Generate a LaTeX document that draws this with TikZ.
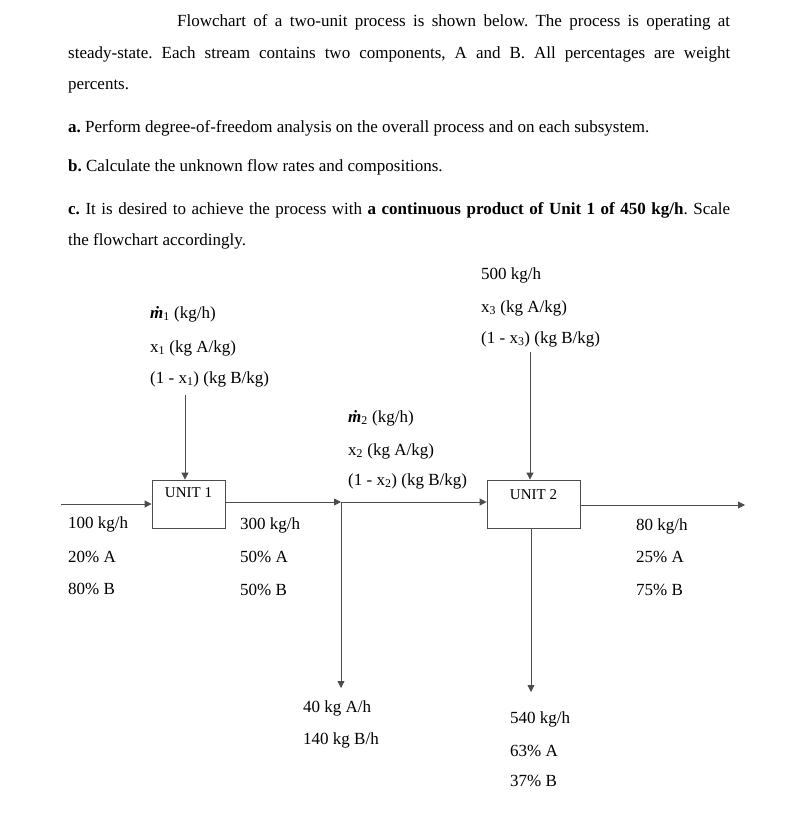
\documentclass[tikz,border=0pt]{standalone}
\usepackage{fontspec}
\setmainfont{Liberation Serif}
\usepackage{tikz}
\usetikzlibrary{arrows.meta}
\frenchspacing

\begin{document}
\begin{tikzpicture}[
    x=1pt,y=-1pt,
    txt/.style={anchor=base west,inner sep=0pt,font=\fontsize{17}{20}\selectfont},
    unit/.style={draw=black!70,line width=0.8pt,minimum width=73pt,minimum height=48pt,inner sep=0pt},
    unitname/.style={anchor=north,inner sep=0pt,font=\fontsize{15}{18}\selectfont},
    flow/.style={draw=black!70,line width=0.8pt,-{Triangle[length=7pt,width=7pt]}}
  ]
    \useasboundingbox (0,0) rectangle (799,815);

    % Problem statement
    \node[txt] (l1) at (177,26) {\makebox[553pt][s]{Flowchart of a two-unit process is shown below. The process is operating at}};
    \node[txt] (l2) at (68,58) {\makebox[662pt][s]{steady-state. Each stream contains two components, A and B. All percentages are weight}};
    \node[txt] (l3) at (68,89) {percents.};
    \node[txt] (qa) at (68,132) {\textbf{a.} Perform degree-of-freedom analysis on the overall process and on each subsystem.};
    \node[txt] (qb) at (68,171) {\textbf{b.} Calculate the unknown flow rates and compositions.};
    \node[txt] (qc) at (68,214) {\makebox[662pt][s]{\textbf{c.} It is desired to achieve the process with \textbf{a continuous product of Unit 1 of 450 kg/h}. Scale}};
    \node[txt] (qd) at (68,245) {the flowchart accordingly.};

    % The two units
    \node[unit,minimum width=73pt,label={[unitname,yshift=-8pt]north:UNIT 1}] (u1) at (188.5,504) {};
    \node[unit,minimum width=93pt,label={[unitname,yshift=-10pt]north:UNIT 2}] (u2) at (533.5,504) {};

    % Free ends of the streams
    \coordinate (feed) at (61,504);
    \coordinate (top1) at (185,395);
    \coordinate (jn) at (341,502);
    \coordinate (side) at (341,688);
    \coordinate (top2) at (530,352);
    \coordinate (prod) at (745,505);
    \coordinate (btm2) at (531,692);

    % Streams
    \draw[flow] (feed) -- (u1.west);
    \draw[flow] (top1) -- (top1 |- u1.north);
    \draw[flow] (u1.east |- jn) -- (jn);
    \draw[flow] (jn) -- (jn -| u2.west);
    \draw[flow] (jn) -- (side);
    \draw[flow] (top2) -- (top2 |- u2.north);
    \draw[flow] (u2.east |- prod) -- (prod);
    \draw[flow] (btm2 |- u2.south) -- (btm2);

    % Stream labels, feed of unit 1
    \node[txt] (m1) at (150,318) {\textbf{\textit{ṁ}}\textsubscript{1} (kg/h)};
    \node[txt] (x1) at (150,352) {x\textsubscript{1} (kg A/kg)};
    \node[txt] (y1) at (150,383) {(1 - x\textsubscript{1}) (kg B/kg)};

    % Split stream
    \node[txt] (m2) at (348,422) {\textbf{\textit{ṁ}}\textsubscript{2} (kg/h)};
    \node[txt] (x2) at (348,455) {x\textsubscript{2} (kg A/kg)};
    \node[txt] (y2) at (348,485) {(1 - x\textsubscript{2}) (kg B/kg)};

    % Feed of unit 2
    \node[txt] (m3) at (481,279) {500 kg/h};
    \node[txt] (x3) at (481,312) {x\textsubscript{3} (kg A/kg)};
    \node[txt] (y3) at (481,343) {(1 - x\textsubscript{3}) (kg B/kg)};

    % Fresh feed
    \node[txt] (f1) at (68,528) {100 kg/h};
    \node[txt] (f2) at (68,562) {20\% A};
    \node[txt] (f3) at (68,594) {80\% B};

    % Product of unit 1
    \node[txt] (p1) at (240,529) {300 kg/h};
    \node[txt] (p2) at (240,562) {50\% A};
    \node[txt] (p3) at (240,595) {50\% B};

    % Product of unit 2
    \node[txt] (r1) at (636,530) {80 kg/h};
    \node[txt] (r2) at (636,562) {25\% A};
    \node[txt] (r3) at (636,595) {75\% B};

    % Side draw
    \node[txt] (s1) at (303,712) {40 kg A/h};
    \node[txt] (s2) at (303,744) {140 kg B/h};

    % Bottom of unit 2
    \node[txt] (b1) at (510,723) {540 kg/h};
    \node[txt] (b2) at (510,756) {63\% A};
    \node[txt] (b3) at (510,786) {37\% B};

  \end{tikzpicture}
\end{document}
